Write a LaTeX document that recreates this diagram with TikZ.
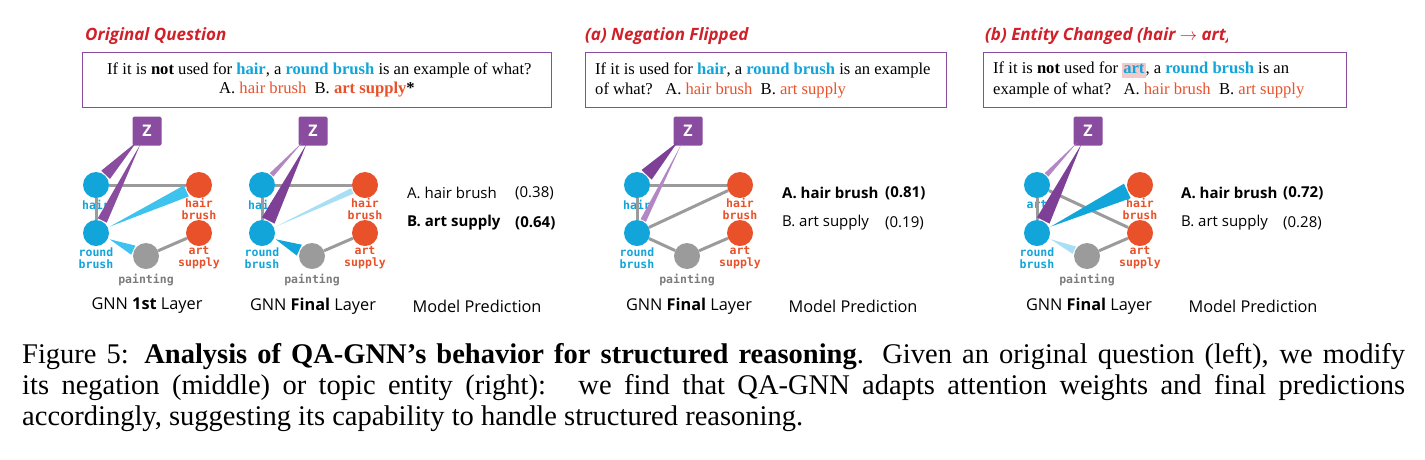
\documentclass[tikz,border=0pt]{standalone}
\usepackage{fontspec}
\setmainfont{Liberation Serif}
\setsansfont{Open Sans}
\setmonofont{DejaVu Sans Mono}
\usetikzlibrary{calc}
\definecolor{nblue}{HTML}{12A5DA}
\definecolor{norange}{HTML}{E8512A}
\definecolor{ngray}{HTML}{9B9B9B}
\definecolor{zpurple}{HTML}{8A4C9E}
\definecolor{lpurple}{HTML}{B386C4}
\definecolor{dpurple}{HTML}{7E3F96}
\definecolor{lblue}{HTML}{A9DFF4}
\definecolor{mblue}{HTML}{3DC3EE}
\definecolor{tred}{HTML}{D0202A}
\definecolor{hl}{HTML}{F4C9C9}
\newcommand\att[4]{%
  \coordinate (aT) at ($(#1)!15pt!(#2)$);
  \coordinate (aB) at ($(#2)!14pt!(#1)$);
  \fill[#4] (aT) -- ($(aB)!#3!90:(aT)$) -- ($(aB)!#3!-90:(aT)$) -- cycle;}
\newcommand\bl[1]{\textcolor{nblue}{\textbf{#1}}}
\newcommand\og[1]{\textcolor{norange}{#1}}
\newcommand\mygraph[2]{%
\begin{scope}[shift={(#1,0)}]
  \node[zn] (z#2) at (147,131) {Z};
  \node[bn] (h#2) at (96,185) {};
  \node[on] (hb#2) at (199,185) {};
  \node[bn] (rb#2) at (96,233) {};
  \node[pn] (p#2) at (146,256) {};
  \node[on] (as#2) at (199,233) {};
  \node[lab,text=nblue] (hl#2) at (96,205) {\ifnum#2=4 art\else hair\fi};
  \node[lab,text=nblue] (rbl#2) at (96,258) {round\\brush};
  \node[lab,text=ngray!80!black] (pl#2) at (146,280) {painting};
  \node[lab,text=norange] (hbl#2) at (199,209) {hair\\brush};
  \node[lab,text=norange] (asl#2) at (199,258) {art\\supply};
\end{scope}}
\begin{document}
\begin{tikzpicture}[x=1pt,y=-1pt,
  gnode/.style={circle,minimum size=26pt,inner sep=0pt},
  bn/.style={gnode,fill=nblue},
  on/.style={gnode,fill=norange},
  pn/.style={gnode,fill=ngray},
  zn/.style={fill=zpurple,minimum size=29pt,inner sep=0pt,rounded corners=1.5pt,text=white,font=\sffamily\bfseries\fontsize{16}{16}\selectfont},
  lab/.style={font=\ttfamily\bfseries\fontsize{11.5}{12}\selectfont,align=center,inner sep=0pt},
  edge/.style={draw=ngray,line width=3pt},
  ttl/.style={anchor=west,inner sep=0pt,text=tred,font=\sffamily\bfseries\itshape\fontsize{17}{17}\selectfont},
  qbox/.style={draw=zpurple,line width=0.8pt},
  qtext/.style={anchor=west,inner sep=0pt,font=\fontsize{16.6}{16.6}\selectfont},
  pred/.style={anchor=west,inner sep=0pt,font=\sffamily\fontsize{15}{15}\selectfont},
  bot/.style={inner sep=0pt,font=\sffamily\fontsize{16.3}{16.3}\selectfont},
]
\useasboundingbox (0,0) rectangle (1425,459);
\mygraph{0}{1}
\mygraph{166}{2}
\mygraph{541}{3}
\mygraph{941}{4}
% edges
\foreach \i in {1,2}{
  \draw[edge] (h\i) -- (hb\i); \draw[edge] (h\i) -- (rb\i); \draw[edge] (p\i) -- (as\i);}
\draw[edge] (h3) -- (hb3); \draw[edge] (h3) -- (rb3); \draw[edge] (p3) -- (as3);
\draw[edge] (rb3) -- (hb3); \draw[edge] (rb3) -- (p3);
\draw[edge] (h4) -- (as4); \draw[edge] (h4) -- (rb4); \draw[edge] (p4) -- (as4);
% attention
\att{z1}{h1}{6pt}{zpurple}
\att{z1}{rb1}{5pt}{zpurple}
\att{rb1}{hb1}{6pt}{mblue}
\att{rb1}{p1}{5pt}{mblue}
\att{z2}{h2}{2.5pt}{lpurple}
\att{z2}{rb2}{7pt}{dpurple}
\att{rb2}{hb2}{3pt}{lblue}
\att{rb2}{p2}{6pt}{nblue}
\att{z3}{h3}{7pt}{dpurple}
\att{z3}{rb3}{3pt}{lpurple}
\att{z4}{h4}{2.5pt}{lpurple}
\att{z4}{rb4}{7pt}{dpurple}
\att{rb4}{hb4}{8pt}{nblue}
\att{rb4}{p4}{4pt}{lblue}
% titles
\node[ttl] (t1) at (85,36) {Original Question};
\node[ttl] (t2) at (585,36) {(a) Negation Flipped};
\begin{scope}
\clip (980,20) rectangle (1227,50);
\node[ttl] (t3) at (985,36) {(b) Entity Changed (hair $\rightarrow$ art)};
\end{scope}
% boxes
\draw[qbox] (82,52) rectangle (551,107);
\draw[qbox] (585,52) rectangle (946,107);
\draw[qbox] (983,52) rectangle (1346,107);
\node[qtext] (q1a) at (107,70) {If it is \textbf{not} used for \bl{hair}, a \bl{round brush} is an example of what?};
\node[qtext] (q1b) at (219,90) {A. \og{hair brush}\ \ B. \og{\textbf{art supply}}\textbf{*}};
\node[qtext] (q2a) at (595,70) {If it is used for \bl{hair}, a \bl{round brush} is an example};
\node[qtext] (q2b) at (595,90) {of what?\ \ \ A. \og{hair brush}\ \ B. \og{art supply}};
\node[qtext] (q3a) at (993,70) {If it is \textbf{not} used for {\setlength{\fboxsep}{1pt}\colorbox{hl}{\rule[-3pt]{0pt}{13pt}\bl{art}}}, a \bl{round brush} is an};
\node[qtext] (q3b) at (993,90) {example of what?\ \ \ A. \og{hair brush}\ \ B. \og{art supply}};
% predictions
\node[pred] (p1a) at (407,193) {A. hair brush};
\node[pred] (p1as) at (515,193) {(0.38)};
\node[pred] (p1b) at (407,223) {\textbf{B. art supply}};
\node[pred] (p1bs) at (515,223) {\textbf{(0.64)}};
\node[pred] (p3a) at (782,193) {\textbf{A. hair brush}};
\node[pred] (p3as) at (885,193) {\textbf{(0.81)}};
\node[pred] (p3b) at (782,223) {B. art supply};
\node[pred] (p3bs) at (885,223) {(0.19)};
\node[pred] (p4a) at (1181,193) {\textbf{A. hair brush}};
\node[pred] (p4as) at (1283,193) {\textbf{(0.72)}};
\node[pred] (p4b) at (1181,223) {B. art supply};
\node[pred] (p4bs) at (1283,223) {(0.28)};
% bottom labels
\node[bot] (b1) at (147,306) {GNN \textbf{1st} Layer};
\node[bot] (b2) at (313,306) {GNN \textbf{Final} Layer};
\node[bot] (b3) at (477,306) {Model Prediction};
\node[bot] (b4) at (689,306) {GNN \textbf{Final} Layer};
\node[bot] (b5) at (853,306) {Model Prediction};
\node[bot] (b6) at (1089,306) {GNN \textbf{Final} Layer};
\node[bot] (b7) at (1253,306) {Model Prediction};
% caption
\begin{scope}[every node/.style={anchor=base west,inner sep=0pt,font=\fontsize{28.5}{28.5}\selectfont}]
\node (c1) at (22,363) {\makebox[1383pt][s]{Figure 5: \textbf{Analysis of QA-GNN's behavior for structured reasoning}. Given an original question (left), we modify}};
\node (c2) at (22,394) {\makebox[1383pt][s]{its negation (middle) or topic entity (right): \ we find that QA-GNN adapts attention weights and final predictions}};
\node (c3) at (22,425) {accordingly, suggesting its capability to handle structured reasoning.};
\end{scope}
\end{tikzpicture}
\end{document}
